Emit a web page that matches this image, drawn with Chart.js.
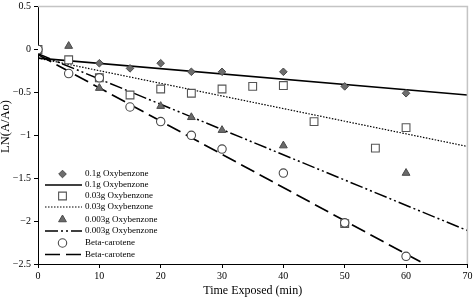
<!DOCTYPE html>
<html>
<head>
<meta charset="utf-8">
<script src="https://cdn.jsdelivr.net/npm/chart.js@4/dist/chart.umd.min.js"></script>
<style>
  body { margin: 0; background: #fff; }
  #wrap { width: 474px; height: 298px; }
</style>
</head>
<body>
<div id="wrap"><canvas id="myChart"></canvas></div>
<script>
var oxy01X = [0, 10, 15, 20, 25, 30, 40, 50, 60];
var oxy01Y = [0, -0.16, -0.22, -0.16, -0.26, -0.26, -0.26, -0.43, -0.51];

var oxy003X = [0, 5, 10, 15, 20, 25, 30, 35, 40, 45, 50, 55, 60];
var oxy003Y = [0, -0.12, -0.33, -0.53, -0.46, -0.51, -0.46, -0.43, -0.42, -0.84, -2.03, -1.15, -0.91];

var oxy0003X = [0, 5, 10, 20, 25, 30, 40, 50, 60];
var oxy0003Y = [0, 0.04, -0.45, -0.66, -0.79, -0.94, -1.12, -2.03, -1.44];

var betaX = [0, 5, 10, 15, 20, 25, 30, 40, 50, 60];
var betaY = [0, -0.28, -0.33, -0.67, -0.84, -1.0, -1.16, -1.44, -2.02, -2.41];

// trend lines: value at x=0 and at x=70
var trendX = [0, 70];
var trend01 = [-0.1, -0.53];
var trend003 = [-0.1, -1.13];
var trend0003 = [-0.05, -2.11];
var trendBeta = [-0.06, -2.77];

function pts(xs, ys) {
  return xs.map(function (x, i) { return { x: x, y: ys[i] }; });
}

var serif = "'Liberation Serif', 'Times New Roman', serif";

// legend inside the plot (lower left), grey frame and the y title
var innerLegend = {
  id: "innerLegend",
  afterDatasetsDraw: function (chart) {
    var ctx = chart.ctx;
    var area = chart.chartArea;
    ctx.save();
    ctx.strokeStyle = "#c4c4c4";
    ctx.lineWidth = 1.5;
    ctx.beginPath();
    ctx.moveTo(area.left, area.top);
    ctx.lineTo(area.right, area.top);
    ctx.lineTo(area.right, area.bottom);
    ctx.stroke();
    ctx.restore();

    // y axis title, sits a bit above the middle in the original
    ctx.save();
    ctx.translate(5.5, 126.5);
    ctx.rotate(-Math.PI / 2);
    ctx.font = "12.5px " + serif;
    ctx.fillStyle = "#000";
    ctx.textAlign = "center";
    ctx.textBaseline = "middle";
    ctx.fillText("LN(A/Ao)", 0, 0);
    ctx.restore();

    var rowY = [174, 185, 196, 207, 219.5, 231, 243, 254.5];
    ctx.save();
    ctx.font = "9px " + serif;
    ctx.textBaseline = "middle";
    chart.data.datasets.forEach(function (ds, i) {
      var y = rowY[i];
      if (ds.showLine) {
        ctx.save();
        ctx.strokeStyle = ds.borderColor;
        ctx.lineWidth = ds.borderWidth;
        ctx.setLineDash(ds.borderDash || []);
        ctx.beginPath();
        ctx.moveTo(45, y);
        ctx.lineTo(82, y);
        ctx.stroke();
        ctx.restore();
      } else {
        ctx.save();
        ctx.fillStyle = ds.pointBackgroundColor;
        ctx.strokeStyle = ds.pointBorderColor;
        ctx.lineWidth = ds.pointBorderWidth;
        Chart.helpers.drawPoint(ctx, {
          pointStyle: ds.pointStyle, rotation: 0,
          radius: ds.pointRadius, borderWidth: ds.pointBorderWidth
        }, 62.5, y);
        ctx.restore();
      }
      ctx.fillStyle = "#000";
      ctx.fillText(ds.label, 85, y);
    });
    ctx.restore();
  }
};

function minus(v) {
  return v < 0 ? "\u2212" + Math.abs(v) : String(v);
}

new Chart("myChart", {
  type: "scatter",
  data: {
    datasets: [
      {
        label: "0.1g Oxybenzone", data: pts(oxy01X, oxy01Y),
        pointStyle: "rectRot", pointRadius: 3.8,
        pointBackgroundColor: "#6d6d6d", pointBorderColor: "#4a4a4a", pointBorderWidth: 1,
        order: 4
      },
      {
        label: "0.1g Oxybenzone", data: pts(trendX, trend01), showLine: true,
        borderColor: "#000", borderWidth: 1.6, pointRadius: 0, order: 8
      },
      {
        label: "0.03g Oxybenzone", data: pts(oxy003X, oxy003Y),
        pointStyle: "rect", pointRadius: 5.5,
        pointBackgroundColor: "#fff", pointBorderColor: "#555", pointBorderWidth: 1.1,
        order: 3
      },
      {
        label: "0.03g Oxybenzone", data: pts(trendX, trend003), showLine: true,
        borderColor: "#000", borderWidth: 1.2, borderDash: [1.5, 1.5], pointRadius: 0, order: 7
      },
      {
        label: "0.003g Oxybenzone", data: pts(oxy0003X, oxy0003Y),
        pointStyle: "triangle", pointRadius: 4.5,
        pointBackgroundColor: "#6a6a6a", pointBorderColor: "#4a4a4a", pointBorderWidth: 1,
        order: 2
      },
      {
        label: "0.003g Oxybenzone", data: pts(trendX, trend0003), showLine: true,
        borderColor: "#000", borderWidth: 1.5, borderDash: [13, 3, 2, 3, 2, 3], pointRadius: 0, order: 6
      },
      {
        label: "Beta-carotene", data: pts(betaX, betaY),
        pointStyle: "circle", pointRadius: 4.2,
        pointBackgroundColor: "#fff", pointBorderColor: "#4a4a4a", pointBorderWidth: 1.1,
        order: 1
      },
      {
        label: "Beta-carotene", data: pts(trendX, trendBeta), showLine: true,
        borderColor: "#000", borderWidth: 1.7, borderDash: [15, 6], pointRadius: 0, order: 5
      }
    ]
  },
  options: {
    responsive: true,
    maintainAspectRatio: false,
    animation: false,
    layout: { padding: { top: 5, right: 5, left: 0, bottom: 0 } },
    plugins: {
      legend: { display: false },
      tooltip: { enabled: false }
    },
    scales: {
      x: {
        type: "linear", min: 0, max: 70,
        afterFit: function (axis) { axis.height = 34; axis.paddingLeft = 0; axis.paddingRight = 0; },
        ticks: { stepSize: 10, color: "#000", font: { family: serif, size: 10 }, padding: 2, maxRotation: 0 },
        grid: { drawOnChartArea: false, color: "#000", tickLength: 4 },
        border: { color: "#000", width: 1 },
        title: { display: true, text: "Time Exposed (min)", color: "#000", font: { family: serif, size: 12 }, padding: { top: 0, bottom: 0 } }
      },
      y: {
        min: -2.5, max: 0.5,
        afterFit: function (axis) { axis.width = 38; axis.paddingTop = 0; axis.paddingBottom = 0; },
        ticks: { stepSize: 0.5, color: "#000", font: { family: serif, size: 10 }, padding: 3, callback: minus },
        grid: { drawOnChartArea: false, color: "#000", tickLength: 4 },
        border: { color: "#000", width: 1 },
        title: { display: false }
      }
    }
  },
  plugins: [innerLegend]
});
</script>
</body>
</html>
